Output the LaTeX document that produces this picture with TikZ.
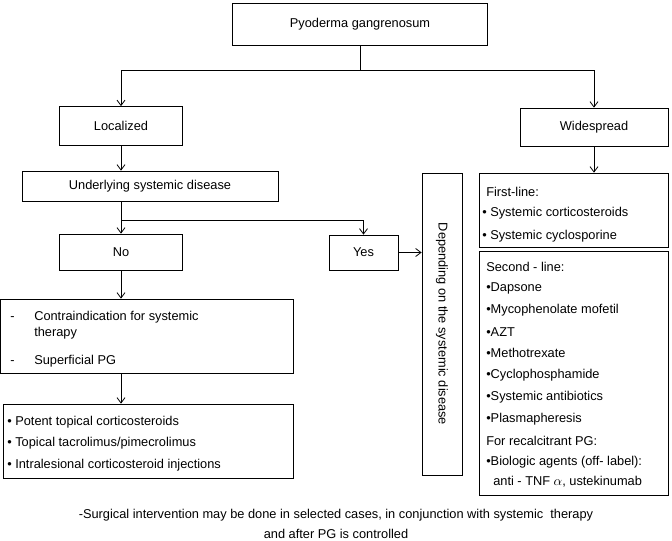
\documentclass[tikz,border=0pt]{standalone}
\usepackage{fontspec}
\setmainfont{Liberation Sans}
\usetikzlibrary{arrows.meta}
\begin{document}
\begin{tikzpicture}[x=0.75pt,y=-0.75pt,
  box/.style={draw,line width=0.6pt,inner sep=0pt,font=\fontsize{9.6}{11}\selectfont},
  txt/.style={inner sep=0pt,anchor=west,font=\fontsize{9.6}{11}\selectfont},
  arr/.style={->,>={Straight Barb[length=4pt,width=6pt]},line width=0.6pt},
  ln/.style={line width=0.6pt}]
\useasboundingbox (0,0) rectangle (672,540);
\node[box,minimum width=191.25pt,minimum height=31.5pt] (pg) at (360,24) {Pyoderma gangrenosum};
\node[box,minimum width=92.25pt,minimum height=29.25pt] (loc) at (121,126) {Localized};
\node[box,minimum width=111pt,minimum height=28.5pt] (wide) at (594,127) {Widespread};
\node[box,minimum width=192pt,minimum height=22.5pt] (und) at (150,186) {Underlying systemic disease};
\node[box,minimum width=92.25pt,minimum height=27pt] (no) at (121,252) {No};
\node[box,minimum width=51.75pt,minimum height=26.25pt] (yes) at (363.5,252.5) {Yes};
\node[box,minimum width=30pt,minimum height=226.5pt] (dep) at (442,324) {};
\node[inner sep=0pt,rotate=-90,font=\fontsize{9.6}{11}\selectfont] (deptxt) at (442,324) {Depending on the systemic disease};
\node[box,minimum width=219.75pt,minimum height=55.5pt] (contra) at (146.5,336) {};
\node[box,minimum width=217.5pt,minimum height=55.5pt] (pot) at (148,441) {};
\node[box,minimum width=141.75pt,minimum height=55.5pt] (first) at (573.5,210) {};
\node[box,minimum width=141.75pt,minimum height=183pt] (second) at (573.5,373) {};
% contra text
\node[txt] (c1d) at (10,319) {-};
\node[txt] (c1) at (34,317) {Contraindication for systemic};
\node[txt] (c2) at (34,333) {therapy};
\node[txt] (c3d) at (10,363) {-};
\node[txt] (c3) at (34,361) {Superficial PG};
% potent text
\node[txt] (p1) at (7,422) {\textbullet\ Potent topical corticosteroids};
\node[txt] (p2) at (7,443) {\textbullet\ Topical tacrolimus/pimecrolimus};
\node[txt] (p3) at (7,465) {\textbullet\ Intralesional corticosteroid injections};
% first-line
\node[txt] (f0) at (486,192) {First-line:};
\node[txt] (f1) at (482,213) {\textbullet\ Systemic corticosteroids};
\node[txt] (f2) at (482,236) {\textbullet\ Systemic cyclosporine};
% second-line
\node[txt] (s0) at (486,267) {Second - line:};
\node[txt] (s1) at (486,288) {\textbullet Dapsone};
\node[txt] (s2) at (486,310) {\textbullet Mycophenolate mofetil};
\node[txt] (s3) at (486,332) {\textbullet AZT};
\node[txt] (s4) at (486,353) {\textbullet Methotrexate};
\node[txt] (s5) at (486,375) {\textbullet Cyclophosphamide};
\node[txt] (s6) at (486,397) {\textbullet Systemic antibiotics};
\node[txt] (s7) at (486,419) {\textbullet Plasmapheresis};
\node[txt] (s8) at (486,441) {For recalcitrant PG:};
\node[txt] (s9) at (486,462) {\textbullet Biologic agents (off- label):};
\node[txt] (s10) at (493,482) {anti - TNF $\alpha$, ustekinumab};
% footer
\node[inner sep=0pt,align=center,font=\fontsize{9.6}{15}\selectfont] (foot) at (336,524) {-Surgical intervention may be done in selected cases, in conjunction with systemic\ \ therapy\\and after PG is controlled};
% connectors
\coordinate (j1) at (360,70);
\draw[ln] (pg.south) -- (j1);
\draw[arr] (j1) -| (loc.north);
\draw[arr] (j1) -| (wide.north);
\draw[arr] (loc.south) -- (und.north -| loc.south);
\coordinate (j2) at (121,220);
\draw[ln] (und.south -| loc.south) -- (j2);
\draw[arr] (j2) -- (no.north);
\draw[arr] (j2) -| (yes.north);
\draw[arr] (yes.east) -- (dep.west |- yes.east);
\draw[arr] (no.south) -- (contra.north -| no.south);
\draw[arr] (contra.south -| no.south) -- (pot.north -| no.south);
\draw[arr] (wide.south) -- (first.north -| wide.south);
\end{tikzpicture}
\end{document}
